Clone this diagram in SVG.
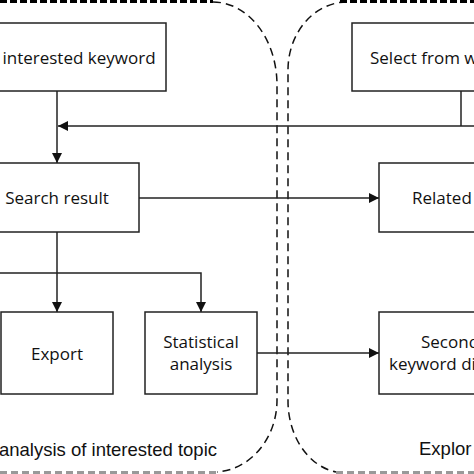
<svg xmlns="http://www.w3.org/2000/svg" width="474" height="474" viewBox="0 0 474 474">
<style>
.box{fill:#fff;stroke:#222;stroke-width:1.5}
.t{font-family:"Open Sans","Noto Sans",sans-serif;font-size:17px;fill:#111}
.lbl{font-family:"Liberation Sans",Arial,sans-serif;font-size:18.5px;fill:#111}
.c{fill:none;stroke:#222;stroke-width:1.5}
.reg{fill:none;stroke:#111;stroke-width:1.5;stroke-dasharray:8 5}
.top{fill:none;stroke:#000;stroke-width:3;stroke-dasharray:7 3}
.bot{fill:none;stroke:#999;stroke-width:3;stroke-dasharray:7 4}
</style>
<defs>
<marker id="arr" viewBox="0 0 10 10" refX="10" refY="5" markerWidth="10" markerHeight="10" markerUnits="userSpaceOnUse" orient="auto">
<path d="M0,0 L10,5 L0,10 z" fill="#111"/>
</marker>
</defs>
<rect width="474" height="474" fill="#fff"/>
<g id="regions">
<path class="reg" d="M213,2 A64,83 0 0 1 277,85 V400 A64,72 0 0 1 217,472"/>
<path class="reg" d="M347,2 A59,68 0 0 0 288,70 V400 A57,72 0 0 0 336,472"/>
<line class="top" x1="0" y1="1.5" x2="213" y2="1.5"/>
<line class="top" x1="340" y1="1.5" x2="474" y2="1.5"/>
<line class="bot" x1="0" y1="472.5" x2="218" y2="472.5"/>
<line class="bot" x1="336" y1="472.5" x2="474" y2="472.5"/>
<text class="lbl" x="217" y="456" text-anchor="end">analysis of interested topic</text>
<text class="lbl" x="419" y="455">Explor</text>
</g>
<g id="connectors">
<line class="c" x1="57" y1="91" x2="57" y2="163" marker-end="url(#arr)"/>
<line class="c" x1="461" y1="91" x2="461" y2="126"/>
<line class="c" x1="474" y1="126" x2="58" y2="126" marker-end="url(#arr)"/>
<line class="c" x1="139" y1="198" x2="379" y2="198" marker-end="url(#arr)"/>
<line class="c" x1="57" y1="232" x2="57" y2="312" marker-end="url(#arr)"/>
<polyline class="c" points="0,273 201,273 201,312" marker-end="url(#arr)"/>
<line class="c" x1="257" y1="353" x2="379" y2="353" marker-end="url(#arr)"/>
</g>
<g id="node-interested-keyword">
<rect class="box" x="-10" y="23" width="176" height="68"/>
<text class="t" x="79" y="64" text-anchor="middle">interested keyword</text>
</g>
<g id="node-search-result">
<rect class="box" x="-25" y="163" width="164" height="69"/>
<text class="t" x="57" y="204" text-anchor="middle">Search result</text>
</g>
<g id="node-export">
<rect class="box" x="1" y="312" width="112" height="82"/>
<text class="t" x="57" y="360" text-anchor="middle">Export</text>
</g>
<g id="node-statistical">
<rect class="box" x="145" y="312" width="112" height="82"/>
<text class="t" x="201" y="348" text-anchor="middle">Statistical</text>
<text class="t" x="201" y="370" text-anchor="middle">analysis</text>
</g>
<g id="node-select">
<rect class="box" x="352" y="23" width="132" height="68"/>
<text class="t" x="370" y="64">Select from w</text>
</g>
<g id="node-related">
<rect class="box" x="379" y="163" width="105" height="69"/>
<text class="t" x="412" y="204">Related</text>
</g>
<g id="node-second">
<rect class="box" x="379" y="312" width="105" height="82"/>
<text class="t" x="421" y="348">Second</text>
<text class="t" x="389" y="370">keyword di</text>
</g>
</svg>
